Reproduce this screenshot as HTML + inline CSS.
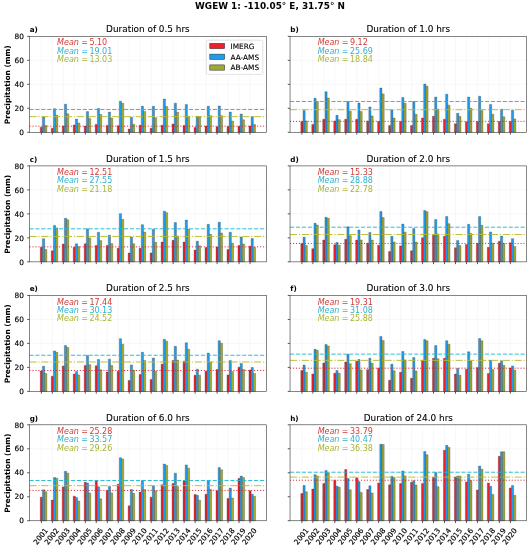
<!DOCTYPE html>
<html lang="en"><head><meta charset="utf-8"><title>WGEW 1 precipitation</title>
<style>html,body{margin:0;padding:0;background:#fff}body{width:530px;height:550px;overflow:hidden}svg{display:block;filter:blur(0.25px)}</style>
</head><body>
<svg width="530" height="550" viewBox="0 0 530 550" font-family="'DejaVu Sans', 'Liberation Sans', sans-serif">
<rect width="530" height="550" fill="#fff"/>
<text x="270" y="8.5" font-size="8.88" font-weight="bold" text-anchor="middle" fill="#000">WGEW 1: -110.05° E, 31.75° N</text>
<g>
<path d="M41.36 36.35V132.3M52.35 36.35V132.3M63.33 36.35V132.3M74.31 36.35V132.3M85.3 36.35V132.3M96.28 36.35V132.3M107.26 36.35V132.3M118.25 36.35V132.3M129.23 36.35V132.3M140.21 36.35V132.3M151.19 36.35V132.3M162.18 36.35V132.3M173.16 36.35V132.3M184.14 36.35V132.3M195.13 36.35V132.3M206.11 36.35V132.3M217.09 36.35V132.3M228.08 36.35V132.3M239.06 36.35V132.3M250.04 36.35V132.3M29.5 108.31H266.3M29.5 84.33H266.3M29.5 60.34H266.3" stroke="#eeeeee" stroke-width="0.4" fill="none"/>
<path d="M40.26 132.3V127.15h2.2V132.3zM51.25 132.3V128.2h2.2V132.3zM62.23 132.3V125.98h2.2V132.3zM73.21 132.3V124.92h2.2V132.3zM84.2 132.3V126.1h2.2V132.3zM95.18 132.3V124.46h2.2V132.3zM106.16 132.3V125.39h2.2V132.3zM117.15 132.3V125.63h2.2V132.3zM128.13 132.3V129.02h2.2V132.3zM139.11 132.3V125.16h2.2V132.3zM150.1 132.3V128.2h2.2V132.3zM161.08 132.3V125.16h2.2V132.3zM172.06 132.3V123.99h2.2V132.3zM183.05 132.3V125.51h2.2V132.3zM194.03 132.3V127.38h2.2V132.3zM205.01 132.3V125.98h2.2V132.3zM216 132.3V126.8h2.2V132.3zM226.98 132.3V126.45h2.2V132.3zM237.96 132.3V126.21h2.2V132.3zM248.95 132.3V125.98h2.2V132.3z" fill="#f0202a" stroke="#303030" stroke-width="0.3"/>
<path d="M42.46 132.3V117.08h2.2V132.3zM53.44 132.3V108.63h2.2V132.3zM64.43 132.3V104.23h2.2V132.3zM75.41 132.3V119.1h2.2V132.3zM86.39 132.3V111.61h2.2V132.3zM97.38 132.3V108.39h2.2V132.3zM108.36 132.3V112.08h2.2V132.3zM119.34 132.3V101.14h2.2V132.3zM130.33 132.3V117.2h2.2V132.3zM141.31 132.3V106.25h2.2V132.3zM152.29 132.3V106.25h2.2V132.3zM163.28 132.3V99h2.2V132.3zM174.26 132.3V103.16h2.2V132.3zM185.24 132.3V104.59h2.2V132.3zM196.23 132.3V116.36h2.2V132.3zM207.21 132.3V106.25h2.2V132.3zM218.19 132.3V105.9h2.2V132.3zM229.18 132.3V112.08h2.2V132.3zM240.16 132.3V114.1h2.2V132.3zM251.14 132.3V116.6h2.2V132.3z" fill="#1e9cf0" stroke="#303030" stroke-width="0.3"/>
<path d="M44.66 132.3V125.56h2.2V132.3zM55.64 132.3V115.17h2.2V132.3zM66.62 132.3V113.75h2.2V132.3zM77.61 132.3V123.08h2.2V132.3zM88.59 132.3V118.59h2.2V132.3zM99.57 132.3V114.46h2.2V132.3zM110.56 132.3V118.12h2.2V132.3zM121.54 132.3V103.35h2.2V132.3zM132.52 132.3V124.26h2.2V132.3zM143.51 132.3V111.38h2.2V132.3zM154.49 132.3V117.65h2.2V132.3zM165.47 132.3V106.42h2.2V132.3zM176.46 132.3V112.21h2.2V132.3zM187.44 132.3V116.35h2.2V132.3zM198.42 132.3V116.47h2.2V132.3zM209.41 132.3V115.64h2.2V132.3zM220.39 132.3V115.64h2.2V132.3zM231.37 132.3V121.07h2.2V132.3zM242.36 132.3V119.77h2.2V132.3zM253.34 132.3V124.5h2.2V132.3z" fill="#a0aa2e" stroke="#303030" stroke-width="0.3"/>
<path d="M29.5 126.18H266.3" stroke="#d62728" stroke-width="0.95" stroke-dasharray="1.115 1.840" fill="none"/>
<path d="M29.5 109.5H266.3" stroke="#1fb8cf" stroke-width="0.92" stroke-dasharray="4.125 1.784" fill="none"/>
<path d="M29.5 116.67H266.3" stroke="#b6bb26" stroke-width="0.92" stroke-dasharray="7.136 1.784 1.115 1.784" fill="none"/>
<path d="M41.36 132.3v2.3M52.35 132.3v2.3M63.33 132.3v2.3M74.31 132.3v2.3M85.3 132.3v2.3M96.28 132.3v2.3M107.26 132.3v2.3M118.25 132.3v2.3M129.23 132.3v2.3M140.21 132.3v2.3M151.19 132.3v2.3M162.18 132.3v2.3M173.16 132.3v2.3M184.14 132.3v2.3M195.13 132.3v2.3M206.11 132.3v2.3M217.09 132.3v2.3M228.08 132.3v2.3M239.06 132.3v2.3M250.04 132.3v2.3M29.5 132.3h-2.3M29.5 108.31h-2.3M29.5 84.33h-2.3M29.5 60.34h-2.3M29.5 36.35h-2.3" stroke="#222" stroke-width="0.75" fill="none"/>
<rect x="29.5" y="36.35" width="236.8" height="95.95" fill="none" stroke="#3a3a3a" stroke-width="0.62"/>
<text x="147.9" y="32.05" font-size="8.88" text-anchor="middle" fill="#000" stroke="#000" stroke-width="0.1">Duration of 0.5 hrs</text>
<text x="29.7" y="32.15" font-size="7.2" font-weight="bold" fill="#000">a)</text>
<text y="45.4" font-size="8" fill="#d23a36"><tspan x="57.1" font-style="italic">Mean</tspan><tspan x="81.2">=</tspan><tspan x="89.4">5.10</tspan></text>
<text y="53.8" font-size="8" fill="#2fb2cc"><tspan x="57.1" font-style="italic">Mean</tspan><tspan x="81.2">=</tspan><tspan x="89.4">19.01</tspan></text>
<text y="62.2" font-size="8" fill="#aab536"><tspan x="57.1" font-style="italic">Mean</tspan><tspan x="81.2">=</tspan><tspan x="89.4">13.03</tspan></text>
<text x="24" y="135" font-size="7.4" text-anchor="end" fill="#000" stroke="#000" stroke-width="0.15">0</text>
<text x="24" y="111.01" font-size="7.4" text-anchor="end" fill="#000" stroke="#000" stroke-width="0.15">20</text>
<text x="24" y="87.03" font-size="7.4" text-anchor="end" fill="#000" stroke="#000" stroke-width="0.15">40</text>
<text x="24" y="63.04" font-size="7.4" text-anchor="end" fill="#000" stroke="#000" stroke-width="0.15">60</text>
<text x="24" y="39.05" font-size="7.4" text-anchor="end" fill="#000" stroke="#000" stroke-width="0.15">80</text>
<text transform="translate(9.5 84.73) rotate(-90)" font-size="7.45" font-weight="bold" text-anchor="middle" fill="#000">Precipitation (mm)</text>
<rect x="206.3" y="40.2" width="56.5" height="34.2" rx="1.2" fill="#fff" fill-opacity="0.8" stroke="#cfcfcf" stroke-width="0.6"/>
<rect x="209.8" y="43.4" width="14.8" height="5.25" fill="#f0202a" stroke="#303030" stroke-width="0.55"/>
<text x="230.5" y="48.85" font-size="7.35" fill="#000" stroke="#000" stroke-width="0.12">IMERG</text>
<rect x="209.8" y="54.15" width="14.8" height="5.25" fill="#1e9cf0" stroke="#303030" stroke-width="0.55"/>
<text x="230.5" y="59.6" font-size="7.35" fill="#000" stroke="#000" stroke-width="0.12">AA-AMS</text>
<rect x="209.8" y="64.9" width="14.8" height="5.25" fill="#a0aa2e" stroke="#303030" stroke-width="0.55"/>
<text x="230.5" y="70.35" font-size="7.35" fill="#000" stroke="#000" stroke-width="0.12">AB-AMS</text>
</g>
<g>
<path d="M301.9 36.35V132.3M312.87 36.35V132.3M323.84 36.35V132.3M334.81 36.35V132.3M345.79 36.35V132.3M356.76 36.35V132.3M367.73 36.35V132.3M378.7 36.35V132.3M389.67 36.35V132.3M400.64 36.35V132.3M411.62 36.35V132.3M422.59 36.35V132.3M433.56 36.35V132.3M444.53 36.35V132.3M455.5 36.35V132.3M466.48 36.35V132.3M477.45 36.35V132.3M488.42 36.35V132.3M499.39 36.35V132.3M510.36 36.35V132.3M290.05 108.31H526.6M290.05 84.33H526.6M290.05 60.34H526.6" stroke="#eeeeee" stroke-width="0.4" fill="none"/>
<path d="M300.8 132.3V121.49h2.19V132.3zM311.77 132.3V124.42h2.19V132.3zM322.75 132.3V119.28h2.19V132.3zM333.72 132.3V120.96h2.19V132.3zM344.69 132.3V119.28h2.19V132.3zM355.66 132.3V119.28h2.19V132.3zM366.63 132.3V120.96h2.19V132.3zM377.6 132.3V121.49h2.19V132.3zM388.58 132.3V125.49h2.19V132.3zM399.55 132.3V121.49h2.19V132.3zM410.52 132.3V125.49h2.19V132.3zM421.49 132.3V118.09h2.19V132.3zM432.46 132.3V116.3h2.19V132.3zM443.43 132.3V119.28h2.19V132.3zM454.41 132.3V123.82h2.19V132.3zM465.38 132.3V121.79h2.19V132.3zM476.35 132.3V121.49h2.19V132.3zM487.32 132.3V123.82h2.19V132.3zM498.29 132.3V121.49h2.19V132.3zM509.26 132.3V121.49h2.19V132.3z" fill="#f0202a" stroke="#303030" stroke-width="0.3"/>
<path d="M303 132.3V110.42h2.19V132.3zM313.97 132.3V98.28h2.19V132.3zM324.94 132.3V91.67h2.19V132.3zM335.91 132.3V115.35h2.19V132.3zM346.88 132.3V101.41h2.19V132.3zM357.86 132.3V103.09h2.19V132.3zM368.83 132.3V106.94h2.19V132.3zM379.8 132.3V88.07h2.19V132.3zM390.77 132.3V109.82h2.19V132.3zM401.74 132.3V97.44h2.19V132.3zM412.71 132.3V101.41h2.19V132.3zM423.69 132.3V83.98h2.19V132.3zM434.66 132.3V97.08h2.19V132.3zM445.63 132.3V94.2h2.19V132.3zM456.6 132.3V113.31h2.19V132.3zM467.57 132.3V97.08h2.19V132.3zM478.54 132.3V96.24h2.19V132.3zM489.52 132.3V104.41h2.19V132.3zM500.49 132.3V109.34h2.19V132.3zM511.46 132.3V110.18h2.19V132.3z" fill="#1e9cf0" stroke="#303030" stroke-width="0.3"/>
<path d="M305.19 132.3V120.94h2.19V132.3zM316.16 132.3V101.57h2.19V132.3zM327.13 132.3V98.11h2.19V132.3zM338.11 132.3V119.63h2.19V132.3zM349.08 132.3V111.14h2.19V132.3zM360.05 132.3V111.62h2.19V132.3zM371.02 132.3V115.92h2.19V132.3zM381.99 132.3V93.92h2.19V132.3zM392.96 132.3V118.07h2.19V132.3zM403.94 132.3V103.25h2.19V132.3zM414.91 132.3V114.25h2.19V132.3zM425.88 132.3V86.27h2.19V132.3zM436.85 132.3V109.11h2.19V132.3zM447.82 132.3V105.16h2.19V132.3zM458.79 132.3V116.4h2.19V132.3zM469.77 132.3V108.27h2.19V132.3zM480.74 132.3V110.54h2.19V132.3zM491.71 132.3V114.25h2.19V132.3zM502.68 132.3V116.76h2.19V132.3zM513.65 132.3V118.91h2.19V132.3z" fill="#a0aa2e" stroke="#303030" stroke-width="0.3"/>
<path d="M290.05 121.36H526.6" stroke="#d62728" stroke-width="0.95" stroke-dasharray="1.115 1.840" fill="none"/>
<path d="M290.05 101.49H526.6" stroke="#1fb8cf" stroke-width="0.92" stroke-dasharray="4.125 1.784" fill="none"/>
<path d="M290.05 109.7H526.6" stroke="#b6bb26" stroke-width="0.92" stroke-dasharray="7.136 1.784 1.115 1.784" fill="none"/>
<path d="M301.9 132.3v2.3M312.87 132.3v2.3M323.84 132.3v2.3M334.81 132.3v2.3M345.79 132.3v2.3M356.76 132.3v2.3M367.73 132.3v2.3M378.7 132.3v2.3M389.67 132.3v2.3M400.64 132.3v2.3M411.62 132.3v2.3M422.59 132.3v2.3M433.56 132.3v2.3M444.53 132.3v2.3M455.5 132.3v2.3M466.48 132.3v2.3M477.45 132.3v2.3M488.42 132.3v2.3M499.39 132.3v2.3M510.36 132.3v2.3M290.05 132.3h-2.3M290.05 108.31h-2.3M290.05 84.33h-2.3M290.05 60.34h-2.3M290.05 36.35h-2.3" stroke="#222" stroke-width="0.75" fill="none"/>
<rect x="290.05" y="36.35" width="236.55" height="95.95" fill="none" stroke="#3a3a3a" stroke-width="0.62"/>
<text x="408.33" y="32.05" font-size="8.88" text-anchor="middle" fill="#000" stroke="#000" stroke-width="0.1">Duration of 1.0 hrs</text>
<text x="290.25" y="32.15" font-size="7.2" font-weight="bold" fill="#000">b)</text>
<text y="45.4" font-size="8" fill="#d23a36"><tspan x="317.65" font-style="italic">Mean</tspan><tspan x="341.75">=</tspan><tspan x="349.95">9.12</tspan></text>
<text y="53.8" font-size="8" fill="#2fb2cc"><tspan x="317.65" font-style="italic">Mean</tspan><tspan x="341.75">=</tspan><tspan x="349.95">25.69</tspan></text>
<text y="62.2" font-size="8" fill="#aab536"><tspan x="317.65" font-style="italic">Mean</tspan><tspan x="341.75">=</tspan><tspan x="349.95">18.84</tspan></text>
</g>
<g>
<path d="M41.36 165.9V261.85M52.35 165.9V261.85M63.33 165.9V261.85M74.31 165.9V261.85M85.3 165.9V261.85M96.28 165.9V261.85M107.26 165.9V261.85M118.25 165.9V261.85M129.23 165.9V261.85M140.21 165.9V261.85M151.19 165.9V261.85M162.18 165.9V261.85M173.16 165.9V261.85M184.14 165.9V261.85M195.13 165.9V261.85M206.11 165.9V261.85M217.09 165.9V261.85M228.08 165.9V261.85M239.06 165.9V261.85M250.04 165.9V261.85M29.5 237.86H266.3M29.5 213.88H266.3M29.5 189.89H266.3" stroke="#eeeeee" stroke-width="0.4" fill="none"/>
<path d="M40.26 261.85V247.14h2.2V261.85zM51.25 261.85V250.85h2.2V261.85zM62.23 261.85V244.04h2.2V261.85zM73.21 261.85V247.14h2.2V261.85zM84.2 261.85V243.8h2.2V261.85zM95.18 261.85V245.47h2.2V261.85zM106.16 261.85V245.47h2.2V261.85zM117.15 261.85V248.34h2.2V261.85zM128.13 261.85V253h2.2V261.85zM139.11 261.85V248.34h2.2V261.85zM150.1 261.85V252.88h2.2V261.85zM161.08 261.85V242.12h2.2V261.85zM172.06 261.85V240.33h2.2V261.85zM183.05 261.85V242.12h2.2V261.85zM194.03 261.85V250.01h2.2V261.85zM205.01 261.85V247.5h2.2V261.85zM216 261.85V247.03h2.2V261.85zM226.98 261.85V249.54h2.2V261.85zM237.96 261.85V245.47h2.2V261.85zM248.95 261.85V246.31h2.2V261.85z" fill="#f0202a" stroke="#303030" stroke-width="0.3"/>
<path d="M42.46 261.85V238.65h2.2V261.85zM53.44 261.85V225.49h2.2V261.85zM64.43 261.85V218.31h2.2V261.85zM75.41 261.85V243.79h2.2V261.85zM86.39 261.85V228.84h2.2V261.85zM97.38 261.85V232.19h2.2V261.85zM108.36 261.85V235.3h2.2V261.85zM119.34 261.85V213.65h2.2V261.85zM130.33 261.85V236.97h2.2V261.85zM141.31 261.85V224.65h2.2V261.85zM152.29 261.85V229.2h2.2V261.85zM163.28 261.85V211.13h2.2V261.85zM174.26 261.85V222.62h2.2V261.85zM185.24 261.85V220.11h2.2V261.85zM196.23 261.85V241.16h2.2V261.85zM207.21 261.85V224.29h2.2V261.85zM218.19 261.85V222.14h2.2V261.85zM229.18 261.85V232.19h2.2V261.85zM240.16 261.85V236.97h2.2V261.85zM251.14 261.85V238.53h2.2V261.85z" fill="#1e9cf0" stroke="#303030" stroke-width="0.3"/>
<path d="M44.66 261.85V249.49h2.2V261.85zM55.64 261.85V227.88h2.2V261.85zM66.62 261.85V219.72h2.2V261.85zM77.61 261.85V246.61h2.2V261.85zM88.59 261.85V238.09h2.2V261.85zM99.57 261.85V240.61h2.2V261.85zM110.56 261.85V243.61h2.2V261.85zM121.54 261.85V219.36h2.2V261.85zM132.52 261.85V243.73h2.2V261.85zM143.51 261.85V232.08h2.2V261.85zM154.49 261.85V242.29h2.2V261.85zM165.47 261.85V212.64h2.2V261.85zM176.46 261.85V236.05h2.2V261.85zM187.44 261.85V229.08h2.2V261.85zM198.42 261.85V245.77h2.2V261.85zM209.41 261.85V234.36h2.2V261.85zM220.39 261.85V233.04h2.2V261.85zM231.37 261.85V243.13h2.2V261.85zM242.36 261.85V243.97h2.2V261.85zM253.34 261.85V247.45h2.2V261.85z" fill="#a0aa2e" stroke="#303030" stroke-width="0.3"/>
<path d="M29.5 246.85H266.3" stroke="#d62728" stroke-width="0.95" stroke-dasharray="1.115 1.840" fill="none"/>
<path d="M29.5 228.81H266.3" stroke="#1fb8cf" stroke-width="0.92" stroke-dasharray="4.125 1.784" fill="none"/>
<path d="M29.5 236.45H266.3" stroke="#b6bb26" stroke-width="0.92" stroke-dasharray="7.136 1.784 1.115 1.784" fill="none"/>
<path d="M41.36 261.85v2.3M52.35 261.85v2.3M63.33 261.85v2.3M74.31 261.85v2.3M85.3 261.85v2.3M96.28 261.85v2.3M107.26 261.85v2.3M118.25 261.85v2.3M129.23 261.85v2.3M140.21 261.85v2.3M151.19 261.85v2.3M162.18 261.85v2.3M173.16 261.85v2.3M184.14 261.85v2.3M195.13 261.85v2.3M206.11 261.85v2.3M217.09 261.85v2.3M228.08 261.85v2.3M239.06 261.85v2.3M250.04 261.85v2.3M29.5 261.85h-2.3M29.5 237.86h-2.3M29.5 213.88h-2.3M29.5 189.89h-2.3M29.5 165.9h-2.3" stroke="#222" stroke-width="0.75" fill="none"/>
<rect x="29.5" y="165.9" width="236.8" height="95.95" fill="none" stroke="#3a3a3a" stroke-width="0.62"/>
<text x="147.9" y="161.6" font-size="8.88" text-anchor="middle" fill="#000" stroke="#000" stroke-width="0.1">Duration of 1.5 hrs</text>
<text x="29.7" y="161.7" font-size="7.2" font-weight="bold" fill="#000">c)</text>
<text y="174.95" font-size="8" fill="#d23a36"><tspan x="57.1" font-style="italic">Mean</tspan><tspan x="81.2">=</tspan><tspan x="89.4">12.51</tspan></text>
<text y="183.35" font-size="8" fill="#2fb2cc"><tspan x="57.1" font-style="italic">Mean</tspan><tspan x="81.2">=</tspan><tspan x="89.4">27.55</tspan></text>
<text y="191.75" font-size="8" fill="#aab536"><tspan x="57.1" font-style="italic">Mean</tspan><tspan x="81.2">=</tspan><tspan x="89.4">21.18</tspan></text>
<text x="24" y="264.55" font-size="7.4" text-anchor="end" fill="#000" stroke="#000" stroke-width="0.15">0</text>
<text x="24" y="240.56" font-size="7.4" text-anchor="end" fill="#000" stroke="#000" stroke-width="0.15">20</text>
<text x="24" y="216.58" font-size="7.4" text-anchor="end" fill="#000" stroke="#000" stroke-width="0.15">40</text>
<text x="24" y="192.59" font-size="7.4" text-anchor="end" fill="#000" stroke="#000" stroke-width="0.15">60</text>
<text x="24" y="168.6" font-size="7.4" text-anchor="end" fill="#000" stroke="#000" stroke-width="0.15">80</text>
<text transform="translate(9.5 214.28) rotate(-90)" font-size="7.45" font-weight="bold" text-anchor="middle" fill="#000">Precipitation (mm)</text>
</g>
<g>
<path d="M301.9 165.9V261.85M312.87 165.9V261.85M323.84 165.9V261.85M334.81 165.9V261.85M345.79 165.9V261.85M356.76 165.9V261.85M367.73 165.9V261.85M378.7 165.9V261.85M389.67 165.9V261.85M400.64 165.9V261.85M411.62 165.9V261.85M422.59 165.9V261.85M433.56 165.9V261.85M444.53 165.9V261.85M455.5 165.9V261.85M466.48 165.9V261.85M477.45 165.9V261.85M488.42 165.9V261.85M499.39 165.9V261.85M510.36 165.9V261.85M290.05 237.86H526.6M290.05 213.88H526.6M290.05 189.89H526.6" stroke="#eeeeee" stroke-width="0.4" fill="none"/>
<path d="M300.8 261.85V243.59h2.19V261.85zM311.77 261.85V248.67h2.19V261.85zM322.75 261.85V239.96h2.19V261.85zM333.72 261.85V244.8h2.19V261.85zM344.69 261.85V239.24h2.19V261.85zM355.66 261.85V240.08h2.19V261.85zM366.63 261.85V243.11h2.19V261.85zM377.6 261.85V245.16h2.19V261.85zM388.58 261.85V251.57h2.19V261.85zM399.55 261.85V245.89h2.19V261.85zM410.52 261.85V250.73h2.19V261.85zM421.49 261.85V237.79h2.19V261.85zM432.46 261.85V235.37h2.19V261.85zM443.43 261.85V236.21h2.19V261.85zM454.41 261.85V247.7h2.19V261.85zM465.38 261.85V244.56h2.19V261.85zM476.35 261.85V243.35h2.19V261.85zM487.32 261.85V247.34h2.19V261.85zM498.29 261.85V241.29h2.19V261.85zM509.26 261.85V242.87h2.19V261.85z" fill="#f0202a" stroke="#303030" stroke-width="0.3"/>
<path d="M303 261.85V237.13h2.19V261.85zM313.97 261.85V223.14h2.19V261.85zM324.94 261.85V217.23h2.19V261.85zM335.91 261.85V242.55h2.19V261.85zM346.88 261.85V226.87h2.19V261.85zM357.86 261.85V230.01h2.19V261.85zM368.83 261.85V232.42h2.19V261.85zM379.8 261.85V211.56h2.19V261.85zM390.77 261.85V236.28h2.19V261.85zM401.74 261.85V224.1h2.19V261.85zM412.71 261.85V228.44h2.19V261.85zM423.69 261.85V210.47h2.19V261.85zM434.66 261.85V219.52h2.19V261.85zM445.63 261.85V216.5h2.19V261.85zM456.6 261.85V240.38h2.19V261.85zM467.57 261.85V224.34h2.19V261.85zM478.54 261.85V216.62h2.19V261.85zM489.52 261.85V231.94h2.19V261.85zM500.49 261.85V236.04h2.19V261.85zM511.46 261.85V238.69h2.19V261.85z" fill="#1e9cf0" stroke="#303030" stroke-width="0.3"/>
<path d="M305.19 261.85V245.6h2.19V261.85zM316.16 261.85V224.99h2.19V261.85zM327.13 261.85V218.2h2.19V261.85zM338.11 261.85V245.24h2.19V261.85zM349.08 261.85V235.66h2.19V261.85zM360.05 261.85V240.03h2.19V261.85zM371.02 261.85V240.03h2.19V261.85zM381.99 261.85V217.6h2.19V261.85zM392.96 261.85V242.09h2.19V261.85zM403.94 261.85V232.15h2.19V261.85zM414.91 261.85V242.09h2.19V261.85zM425.88 261.85V211.66h2.19V261.85zM436.85 261.85V233.96h2.19V261.85zM447.82 261.85V223.66h2.19V261.85zM458.79 261.85V245.6h2.19V261.85zM469.77 261.85V233.6h2.19V261.85zM480.74 261.85V225.36h2.19V261.85zM491.71 261.85V243.3h2.19V261.85zM502.68 261.85V243.3h2.19V261.85zM513.65 261.85V246.45h2.19V261.85z" fill="#a0aa2e" stroke="#303030" stroke-width="0.3"/>
<path d="M290.05 243.46H526.6" stroke="#d62728" stroke-width="0.95" stroke-dasharray="1.115 1.840" fill="none"/>
<path d="M290.05 227.21H526.6" stroke="#1fb8cf" stroke-width="0.92" stroke-dasharray="4.125 1.784" fill="none"/>
<path d="M290.05 234.53H526.6" stroke="#b6bb26" stroke-width="0.92" stroke-dasharray="7.136 1.784 1.115 1.784" fill="none"/>
<path d="M301.9 261.85v2.3M312.87 261.85v2.3M323.84 261.85v2.3M334.81 261.85v2.3M345.79 261.85v2.3M356.76 261.85v2.3M367.73 261.85v2.3M378.7 261.85v2.3M389.67 261.85v2.3M400.64 261.85v2.3M411.62 261.85v2.3M422.59 261.85v2.3M433.56 261.85v2.3M444.53 261.85v2.3M455.5 261.85v2.3M466.48 261.85v2.3M477.45 261.85v2.3M488.42 261.85v2.3M499.39 261.85v2.3M510.36 261.85v2.3M290.05 261.85h-2.3M290.05 237.86h-2.3M290.05 213.88h-2.3M290.05 189.89h-2.3M290.05 165.9h-2.3" stroke="#222" stroke-width="0.75" fill="none"/>
<rect x="290.05" y="165.9" width="236.55" height="95.95" fill="none" stroke="#3a3a3a" stroke-width="0.62"/>
<text x="408.33" y="161.6" font-size="8.88" text-anchor="middle" fill="#000" stroke="#000" stroke-width="0.1">Duration of 2.0 hrs</text>
<text x="290.25" y="161.7" font-size="7.2" font-weight="bold" fill="#000">d)</text>
<text y="174.95" font-size="8" fill="#d23a36"><tspan x="317.65" font-style="italic">Mean</tspan><tspan x="341.75">=</tspan><tspan x="349.95">15.33</tspan></text>
<text y="183.35" font-size="8" fill="#2fb2cc"><tspan x="317.65" font-style="italic">Mean</tspan><tspan x="341.75">=</tspan><tspan x="349.95">28.88</tspan></text>
<text y="191.75" font-size="8" fill="#aab536"><tspan x="317.65" font-style="italic">Mean</tspan><tspan x="341.75">=</tspan><tspan x="349.95">22.78</tspan></text>
</g>
<g>
<path d="M41.36 295.45V391.4M52.35 295.45V391.4M63.33 295.45V391.4M74.31 295.45V391.4M85.3 295.45V391.4M96.28 295.45V391.4M107.26 295.45V391.4M118.25 295.45V391.4M129.23 295.45V391.4M140.21 295.45V391.4M151.19 295.45V391.4M162.18 295.45V391.4M173.16 295.45V391.4M184.14 295.45V391.4M195.13 295.45V391.4M206.11 295.45V391.4M217.09 295.45V391.4M228.08 295.45V391.4M239.06 295.45V391.4M250.04 295.45V391.4M29.5 367.41H266.3M29.5 343.42H266.3M29.5 319.44H266.3" stroke="#eeeeee" stroke-width="0.4" fill="none"/>
<path d="M40.26 391.4V370.9h2.2V391.4zM51.25 391.4V376.21h2.2V391.4zM62.23 391.4V365.96h2.2V391.4zM73.21 391.4V374.04h2.2V391.4zM84.2 391.4V365.48h2.2V391.4zM95.18 391.4V365.84h2.2V391.4zM106.16 391.4V371.99h2.2V391.4zM117.15 391.4V371.14h2.2V391.4zM128.13 391.4V380.49h2.2V391.4zM139.11 391.4V374.4h2.2V391.4zM150.1 391.4V379.46h2.2V391.4zM161.08 391.4V364.15h2.2V391.4zM172.06 391.4V360.41h2.2V391.4zM183.05 391.4V361.26h2.2V391.4zM194.03 391.4V375.24h2.2V391.4zM205.01 391.4V371.14h2.2V391.4zM216 391.4V369.45h2.2V391.4zM226.98 391.4V374.88h2.2V391.4zM237.96 391.4V367.16h2.2V391.4zM248.95 391.4V370.06h2.2V391.4z" fill="#f0202a" stroke="#303030" stroke-width="0.3"/>
<path d="M42.46 391.4V366.28h2.2V391.4zM53.44 391.4V350.95h2.2V391.4zM64.43 391.4V345.51h2.2V391.4zM75.41 391.4V371.47h2.2V391.4zM86.39 391.4V355.53h2.2V391.4zM97.38 391.4V359.52h2.2V391.4zM108.36 391.4V359.16h2.2V391.4zM119.34 391.4V338.63h2.2V391.4zM130.33 391.4V364.95h2.2V391.4zM141.31 391.4V352.27h2.2V391.4zM152.29 391.4V358.07h2.2V391.4zM163.28 391.4V339.35h2.2V391.4zM174.26 391.4V346.36h2.2V391.4zM185.24 391.4V342.73h2.2V391.4zM196.23 391.4V369.18h2.2V391.4zM207.21 391.4V353.12h2.2V391.4zM218.19 391.4V340.68h2.2V391.4zM229.18 391.4V360.61h2.2V391.4zM240.16 391.4V363.38h2.2V391.4zM251.14 391.4V367.49h2.2V391.4z" fill="#1e9cf0" stroke="#303030" stroke-width="0.3"/>
<path d="M44.66 391.4V373.45h2.2V391.4zM55.64 391.4V352.36h2.2V391.4zM66.62 391.4V347.54h2.2V391.4zM77.61 391.4V374.89h2.2V391.4zM88.59 391.4V364.65h2.2V391.4zM99.57 391.4V369.71h2.2V391.4zM110.56 391.4V365.49h2.2V391.4zM121.54 391.4V344.16h2.2V391.4zM132.52 391.4V370.31h2.2V391.4zM143.51 391.4V360.43h2.2V391.4zM154.49 391.4V371.16h2.2V391.4zM165.47 391.4V341.15h2.2V391.4zM176.46 391.4V360.07h2.2V391.4zM187.44 391.4V349.34h2.2V391.4zM198.42 391.4V375.25h2.2V391.4zM209.41 391.4V362.12h2.2V391.4zM220.39 391.4V343.32h2.2V391.4zM231.37 391.4V371.52h2.2V391.4zM242.36 391.4V369.47h2.2V391.4zM253.34 391.4V373.45h2.2V391.4z" fill="#a0aa2e" stroke="#303030" stroke-width="0.3"/>
<path d="M29.5 370.48H266.3" stroke="#d62728" stroke-width="0.95" stroke-dasharray="1.115 1.840" fill="none"/>
<path d="M29.5 355.26H266.3" stroke="#1fb8cf" stroke-width="0.92" stroke-dasharray="4.125 1.784" fill="none"/>
<path d="M29.5 361.99H266.3" stroke="#b6bb26" stroke-width="0.92" stroke-dasharray="7.136 1.784 1.115 1.784" fill="none"/>
<path d="M41.36 391.4v2.3M52.35 391.4v2.3M63.33 391.4v2.3M74.31 391.4v2.3M85.3 391.4v2.3M96.28 391.4v2.3M107.26 391.4v2.3M118.25 391.4v2.3M129.23 391.4v2.3M140.21 391.4v2.3M151.19 391.4v2.3M162.18 391.4v2.3M173.16 391.4v2.3M184.14 391.4v2.3M195.13 391.4v2.3M206.11 391.4v2.3M217.09 391.4v2.3M228.08 391.4v2.3M239.06 391.4v2.3M250.04 391.4v2.3M29.5 391.4h-2.3M29.5 367.41h-2.3M29.5 343.42h-2.3M29.5 319.44h-2.3M29.5 295.45h-2.3" stroke="#222" stroke-width="0.75" fill="none"/>
<rect x="29.5" y="295.45" width="236.8" height="95.95" fill="none" stroke="#3a3a3a" stroke-width="0.62"/>
<text x="147.9" y="291.15" font-size="8.88" text-anchor="middle" fill="#000" stroke="#000" stroke-width="0.1">Duration of 2.5 hrs</text>
<text x="29.7" y="291.25" font-size="7.2" font-weight="bold" fill="#000">e)</text>
<text y="304.5" font-size="8" fill="#d23a36"><tspan x="57.1" font-style="italic">Mean</tspan><tspan x="81.2">=</tspan><tspan x="89.4">17.44</tspan></text>
<text y="312.9" font-size="8" fill="#2fb2cc"><tspan x="57.1" font-style="italic">Mean</tspan><tspan x="81.2">=</tspan><tspan x="89.4">30.13</tspan></text>
<text y="321.3" font-size="8" fill="#aab536"><tspan x="57.1" font-style="italic">Mean</tspan><tspan x="81.2">=</tspan><tspan x="89.4">24.52</tspan></text>
<text x="24" y="394.1" font-size="7.4" text-anchor="end" fill="#000" stroke="#000" stroke-width="0.15">0</text>
<text x="24" y="370.11" font-size="7.4" text-anchor="end" fill="#000" stroke="#000" stroke-width="0.15">20</text>
<text x="24" y="346.12" font-size="7.4" text-anchor="end" fill="#000" stroke="#000" stroke-width="0.15">40</text>
<text x="24" y="322.14" font-size="7.4" text-anchor="end" fill="#000" stroke="#000" stroke-width="0.15">60</text>
<text x="24" y="298.15" font-size="7.4" text-anchor="end" fill="#000" stroke="#000" stroke-width="0.15">80</text>
<text transform="translate(9.5 343.82) rotate(-90)" font-size="7.45" font-weight="bold" text-anchor="middle" fill="#000">Precipitation (mm)</text>
</g>
<g>
<path d="M301.9 295.45V391.4M312.87 295.45V391.4M323.84 295.45V391.4M334.81 295.45V391.4M345.79 295.45V391.4M356.76 295.45V391.4M367.73 295.45V391.4M378.7 295.45V391.4M389.67 295.45V391.4M400.64 295.45V391.4M411.62 295.45V391.4M422.59 295.45V391.4M433.56 295.45V391.4M444.53 295.45V391.4M455.5 295.45V391.4M466.48 295.45V391.4M477.45 295.45V391.4M488.42 295.45V391.4M499.39 295.45V391.4M510.36 295.45V391.4M290.05 367.41H526.6M290.05 343.42H526.6M290.05 319.44H526.6" stroke="#eeeeee" stroke-width="0.4" fill="none"/>
<path d="M300.8 391.4V370.52h2.19V391.4zM311.77 391.4V374.02h2.19V391.4zM322.75 391.4V362.91h2.19V391.4zM333.72 391.4V373.17h2.19V391.4zM344.69 391.4V362.07h2.19V391.4zM355.66 391.4V361.22h2.19V391.4zM366.63 391.4V369.67h2.19V391.4zM377.6 391.4V367.98h2.19V391.4zM388.58 391.4V380.29h2.19V391.4zM399.55 391.4V372.33h2.19V391.4zM410.52 391.4V378.24h2.19V391.4zM421.49 391.4V360.38h2.19V391.4zM432.46 391.4V358.32h2.19V391.4zM443.43 391.4V358.32h2.19V391.4zM454.41 391.4V374.02h2.19V391.4zM465.38 391.4V369.19h2.19V391.4zM476.35 391.4V367.5h2.19V391.4zM487.32 391.4V373.41h2.19V391.4zM498.29 391.4V363.27h2.19V391.4zM509.26 391.4V367.98h2.19V391.4z" fill="#f0202a" stroke="#303030" stroke-width="0.3"/>
<path d="M303 391.4V365.07h2.19V391.4zM313.97 391.4V349.24h2.19V391.4zM324.94 391.4V344.53h2.19V391.4zM335.91 391.4V370.5h2.19V391.4zM346.88 391.4V354.32h2.19V391.4zM357.86 391.4V359.51h2.19V391.4zM368.83 391.4V358.3h2.19V391.4zM379.8 391.4V336.44h2.19V391.4zM390.77 391.4V364.22h2.19V391.4zM401.74 391.4V351.42h2.19V391.4zM412.71 391.4V357.46h2.19V391.4zM423.69 391.4V339.46h2.19V391.4zM434.66 391.4V345.5h2.19V391.4zM445.63 391.4V340.67h2.19V391.4zM456.6 391.4V368.45h2.19V391.4zM467.57 391.4V351.78h2.19V391.4zM478.54 391.4V338.49h2.19V391.4zM489.52 391.4V360.36h2.19V391.4zM500.49 391.4V360.84h2.19V391.4zM511.46 391.4V365.91h2.19V391.4z" fill="#1e9cf0" stroke="#303030" stroke-width="0.3"/>
<path d="M305.19 391.4V372.25h2.19V391.4zM316.16 391.4V350.32h2.19V391.4zM327.13 391.4V345.96h2.19V391.4zM338.11 391.4V373.34h2.19V391.4zM349.08 391.4V363.65h2.19V391.4zM360.05 391.4V369.95h2.19V391.4zM371.02 391.4V363.29h2.19V391.4zM381.99 391.4V340.51h2.19V391.4zM392.96 391.4V370.8h2.19V391.4zM403.94 391.4V359.89h2.19V391.4zM414.91 391.4V371.04h2.19V391.4zM425.88 391.4V340.87h2.19V391.4zM436.85 391.4V358.8h2.19V391.4zM447.82 391.4V344.26h2.19V391.4zM458.79 391.4V375.16h2.19V391.4zM469.77 391.4V361.11h2.19V391.4zM480.74 391.4V340.87h2.19V391.4zM491.71 391.4V369.59h2.19V391.4zM502.68 391.4V365.35h2.19V391.4zM513.65 391.4V370.19h2.19V391.4z" fill="#a0aa2e" stroke="#303030" stroke-width="0.3"/>
<path d="M290.05 368.24H526.6" stroke="#d62728" stroke-width="0.95" stroke-dasharray="1.115 1.840" fill="none"/>
<path d="M290.05 354.12H526.6" stroke="#1fb8cf" stroke-width="0.92" stroke-dasharray="4.125 1.784" fill="none"/>
<path d="M290.05 360.36H526.6" stroke="#b6bb26" stroke-width="0.92" stroke-dasharray="7.136 1.784 1.115 1.784" fill="none"/>
<path d="M301.9 391.4v2.3M312.87 391.4v2.3M323.84 391.4v2.3M334.81 391.4v2.3M345.79 391.4v2.3M356.76 391.4v2.3M367.73 391.4v2.3M378.7 391.4v2.3M389.67 391.4v2.3M400.64 391.4v2.3M411.62 391.4v2.3M422.59 391.4v2.3M433.56 391.4v2.3M444.53 391.4v2.3M455.5 391.4v2.3M466.48 391.4v2.3M477.45 391.4v2.3M488.42 391.4v2.3M499.39 391.4v2.3M510.36 391.4v2.3M290.05 391.4h-2.3M290.05 367.41h-2.3M290.05 343.42h-2.3M290.05 319.44h-2.3M290.05 295.45h-2.3" stroke="#222" stroke-width="0.75" fill="none"/>
<rect x="290.05" y="295.45" width="236.55" height="95.95" fill="none" stroke="#3a3a3a" stroke-width="0.62"/>
<text x="408.33" y="291.15" font-size="8.88" text-anchor="middle" fill="#000" stroke="#000" stroke-width="0.1">Duration of 3.0 hrs</text>
<text x="290.25" y="291.25" font-size="7.2" font-weight="bold" fill="#000">f)</text>
<text y="304.5" font-size="8" fill="#d23a36"><tspan x="317.65" font-style="italic">Mean</tspan><tspan x="341.75">=</tspan><tspan x="349.95">19.31</tspan></text>
<text y="312.9" font-size="8" fill="#2fb2cc"><tspan x="317.65" font-style="italic">Mean</tspan><tspan x="341.75">=</tspan><tspan x="349.95">31.08</tspan></text>
<text y="321.3" font-size="8" fill="#aab536"><tspan x="317.65" font-style="italic">Mean</tspan><tspan x="341.75">=</tspan><tspan x="349.95">25.88</tspan></text>
</g>
<g>
<path d="M41.36 424.8V520.75M52.35 424.8V520.75M63.33 424.8V520.75M74.31 424.8V520.75M85.3 424.8V520.75M96.28 424.8V520.75M107.26 424.8V520.75M118.25 424.8V520.75M129.23 424.8V520.75M140.21 424.8V520.75M151.19 424.8V520.75M162.18 424.8V520.75M173.16 424.8V520.75M184.14 424.8V520.75M195.13 424.8V520.75M206.11 424.8V520.75M217.09 424.8V520.75M228.08 424.8V520.75M239.06 424.8V520.75M250.04 424.8V520.75M29.5 496.76H266.3M29.5 472.77H266.3M29.5 448.79H266.3" stroke="#eeeeee" stroke-width="0.4" fill="none"/>
<path d="M40.26 520.75V497.21h2.2V520.75zM51.25 520.75V500.12h2.2V520.75zM62.23 520.75V486.9h2.2V520.75zM73.21 520.75V496.24h2.2V520.75zM84.2 520.75V482.17h2.2V520.75zM95.18 520.75V480.71h2.2V520.75zM106.16 520.75V490.42h2.2V520.75zM117.15 520.75V484.23h2.2V520.75zM128.13 520.75V505.83h2.2V520.75zM139.11 520.75V492.12h2.2V520.75zM150.1 520.75V497.21h2.2V520.75zM161.08 520.75V484.72h2.2V520.75zM172.06 520.75V483.38h2.2V520.75zM183.05 520.75V480.47h2.2V520.75zM194.03 520.75V494.54h2.2V520.75zM205.01 520.75V494.18h2.2V520.75zM216 520.75V490.66h2.2V520.75zM226.98 520.75V498.43h2.2V520.75zM237.96 520.75V478.41h2.2V520.75zM248.95 520.75V490.66h2.2V520.75z" fill="#f0202a" stroke="#303030" stroke-width="0.3"/>
<path d="M42.46 520.75V489.78h2.2V520.75zM53.44 520.75V477.52h2.2V520.75zM64.43 520.75V471.32h2.2V520.75zM75.41 520.75V497.56h2.2V520.75zM86.39 520.75V482.98h2.2V520.75zM97.38 520.75V486.87h2.2V520.75zM108.36 520.75V486.38h2.2V520.75zM119.34 520.75V457.72h2.2V520.75zM130.33 520.75V489.54h2.2V520.75zM141.31 520.75V480.43h2.2V520.75zM152.29 520.75V485.9h2.2V520.75zM163.28 520.75V464.04h2.2V520.75zM174.26 520.75V473.15h2.2V520.75zM185.24 520.75V464.89h2.2V520.75zM196.23 520.75V495.37h2.2V520.75zM207.21 520.75V480.43h2.2V520.75zM218.19 520.75V467.56h2.2V520.75zM229.18 520.75V488.08h2.2V520.75zM240.16 520.75V476.06h2.2V520.75zM251.14 520.75V494.15h2.2V520.75z" fill="#1e9cf0" stroke="#303030" stroke-width="0.3"/>
<path d="M44.66 520.75V491.68h2.2V520.75zM55.64 520.75V478.23h2.2V520.75zM66.62 520.75V473.14h2.2V520.75zM77.61 520.75V501h2.2V520.75zM88.59 520.75V492.89h2.2V520.75zM99.57 520.75V498.82h2.2V520.75zM110.56 520.75V492.89h2.2V520.75zM121.54 520.75V459.09h2.2V520.75zM132.52 520.75V493.37h2.2V520.75zM143.51 520.75V489.62h2.2V520.75zM154.49 520.75V490.71h2.2V520.75zM165.47 520.75V465.39h2.2V520.75zM176.46 520.75V486.47h2.2V520.75zM187.44 520.75V468.18h2.2V520.75zM198.42 520.75V500.16h2.2V520.75zM209.41 520.75V489.62h2.2V520.75zM220.39 520.75V469.87h2.2V520.75zM231.37 520.75V498.1h2.2V520.75zM242.36 520.75V477.62h2.2V520.75zM253.34 520.75V496.28h2.2V520.75z" fill="#a0aa2e" stroke="#303030" stroke-width="0.3"/>
<path d="M29.5 490.43H266.3" stroke="#d62728" stroke-width="0.95" stroke-dasharray="1.115 1.840" fill="none"/>
<path d="M29.5 480.49H266.3" stroke="#1fb8cf" stroke-width="0.92" stroke-dasharray="4.125 1.784" fill="none"/>
<path d="M29.5 485.66H266.3" stroke="#b6bb26" stroke-width="0.92" stroke-dasharray="7.136 1.784 1.115 1.784" fill="none"/>
<path d="M41.36 520.75v2.3M52.35 520.75v2.3M63.33 520.75v2.3M74.31 520.75v2.3M85.3 520.75v2.3M96.28 520.75v2.3M107.26 520.75v2.3M118.25 520.75v2.3M129.23 520.75v2.3M140.21 520.75v2.3M151.19 520.75v2.3M162.18 520.75v2.3M173.16 520.75v2.3M184.14 520.75v2.3M195.13 520.75v2.3M206.11 520.75v2.3M217.09 520.75v2.3M228.08 520.75v2.3M239.06 520.75v2.3M250.04 520.75v2.3M29.5 520.75h-2.3M29.5 496.76h-2.3M29.5 472.77h-2.3M29.5 448.79h-2.3M29.5 424.8h-2.3" stroke="#222" stroke-width="0.75" fill="none"/>
<rect x="29.5" y="424.8" width="236.8" height="95.95" fill="none" stroke="#3a3a3a" stroke-width="0.62"/>
<text x="147.9" y="420.5" font-size="8.88" text-anchor="middle" fill="#000" stroke="#000" stroke-width="0.1">Duration of 6.0 hrs</text>
<text x="29.7" y="420.6" font-size="7.2" font-weight="bold" fill="#000">g)</text>
<text y="433.85" font-size="8" fill="#d23a36"><tspan x="57.1" font-style="italic">Mean</tspan><tspan x="81.2">=</tspan><tspan x="89.4">25.28</tspan></text>
<text y="442.25" font-size="8" fill="#2fb2cc"><tspan x="57.1" font-style="italic">Mean</tspan><tspan x="81.2">=</tspan><tspan x="89.4">33.57</tspan></text>
<text y="450.65" font-size="8" fill="#aab536"><tspan x="57.1" font-style="italic">Mean</tspan><tspan x="81.2">=</tspan><tspan x="89.4">29.26</tspan></text>
<text x="24" y="523.45" font-size="7.4" text-anchor="end" fill="#000" stroke="#000" stroke-width="0.15">0</text>
<text x="24" y="499.46" font-size="7.4" text-anchor="end" fill="#000" stroke="#000" stroke-width="0.15">20</text>
<text x="24" y="475.47" font-size="7.4" text-anchor="end" fill="#000" stroke="#000" stroke-width="0.15">40</text>
<text x="24" y="451.49" font-size="7.4" text-anchor="end" fill="#000" stroke="#000" stroke-width="0.15">60</text>
<text x="24" y="427.5" font-size="7.4" text-anchor="end" fill="#000" stroke="#000" stroke-width="0.15">80</text>
<text transform="translate(9.5 473.17) rotate(-90)" font-size="7.45" font-weight="bold" text-anchor="middle" fill="#000">Precipitation (mm)</text>
<text transform="translate(40.76 536.35) rotate(-52)" font-size="7.3" text-anchor="middle" dominant-baseline="central" fill="#000" stroke="#000" stroke-width="0.15">2001</text>
<text transform="translate(51.75 536.35) rotate(-52)" font-size="7.3" text-anchor="middle" dominant-baseline="central" fill="#000" stroke="#000" stroke-width="0.15">2002</text>
<text transform="translate(62.73 536.35) rotate(-52)" font-size="7.3" text-anchor="middle" dominant-baseline="central" fill="#000" stroke="#000" stroke-width="0.15">2003</text>
<text transform="translate(73.71 536.35) rotate(-52)" font-size="7.3" text-anchor="middle" dominant-baseline="central" fill="#000" stroke="#000" stroke-width="0.15">2004</text>
<text transform="translate(84.7 536.35) rotate(-52)" font-size="7.3" text-anchor="middle" dominant-baseline="central" fill="#000" stroke="#000" stroke-width="0.15">2005</text>
<text transform="translate(95.68 536.35) rotate(-52)" font-size="7.3" text-anchor="middle" dominant-baseline="central" fill="#000" stroke="#000" stroke-width="0.15">2006</text>
<text transform="translate(106.66 536.35) rotate(-52)" font-size="7.3" text-anchor="middle" dominant-baseline="central" fill="#000" stroke="#000" stroke-width="0.15">2007</text>
<text transform="translate(117.65 536.35) rotate(-52)" font-size="7.3" text-anchor="middle" dominant-baseline="central" fill="#000" stroke="#000" stroke-width="0.15">2008</text>
<text transform="translate(128.63 536.35) rotate(-52)" font-size="7.3" text-anchor="middle" dominant-baseline="central" fill="#000" stroke="#000" stroke-width="0.15">2009</text>
<text transform="translate(139.61 536.35) rotate(-52)" font-size="7.3" text-anchor="middle" dominant-baseline="central" fill="#000" stroke="#000" stroke-width="0.15">2010</text>
<text transform="translate(150.59 536.35) rotate(-52)" font-size="7.3" text-anchor="middle" dominant-baseline="central" fill="#000" stroke="#000" stroke-width="0.15">2011</text>
<text transform="translate(161.58 536.35) rotate(-52)" font-size="7.3" text-anchor="middle" dominant-baseline="central" fill="#000" stroke="#000" stroke-width="0.15">2012</text>
<text transform="translate(172.56 536.35) rotate(-52)" font-size="7.3" text-anchor="middle" dominant-baseline="central" fill="#000" stroke="#000" stroke-width="0.15">2013</text>
<text transform="translate(183.54 536.35) rotate(-52)" font-size="7.3" text-anchor="middle" dominant-baseline="central" fill="#000" stroke="#000" stroke-width="0.15">2014</text>
<text transform="translate(194.53 536.35) rotate(-52)" font-size="7.3" text-anchor="middle" dominant-baseline="central" fill="#000" stroke="#000" stroke-width="0.15">2015</text>
<text transform="translate(205.51 536.35) rotate(-52)" font-size="7.3" text-anchor="middle" dominant-baseline="central" fill="#000" stroke="#000" stroke-width="0.15">2016</text>
<text transform="translate(216.49 536.35) rotate(-52)" font-size="7.3" text-anchor="middle" dominant-baseline="central" fill="#000" stroke="#000" stroke-width="0.15">2017</text>
<text transform="translate(227.48 536.35) rotate(-52)" font-size="7.3" text-anchor="middle" dominant-baseline="central" fill="#000" stroke="#000" stroke-width="0.15">2018</text>
<text transform="translate(238.46 536.35) rotate(-52)" font-size="7.3" text-anchor="middle" dominant-baseline="central" fill="#000" stroke="#000" stroke-width="0.15">2019</text>
<text transform="translate(249.44 536.35) rotate(-52)" font-size="7.3" text-anchor="middle" dominant-baseline="central" fill="#000" stroke="#000" stroke-width="0.15">2020</text>
</g>
<g>
<path d="M301.9 424.8V520.75M312.87 424.8V520.75M323.84 424.8V520.75M334.81 424.8V520.75M345.79 424.8V520.75M356.76 424.8V520.75M367.73 424.8V520.75M378.7 424.8V520.75M389.67 424.8V520.75M400.64 424.8V520.75M411.62 424.8V520.75M422.59 424.8V520.75M433.56 424.8V520.75M444.53 424.8V520.75M455.5 424.8V520.75M466.48 424.8V520.75M477.45 424.8V520.75M488.42 424.8V520.75M499.39 424.8V520.75M510.36 424.8V520.75M290.05 496.76H526.6M290.05 472.77H526.6M290.05 448.79H526.6" stroke="#eeeeee" stroke-width="0.4" fill="none"/>
<path d="M300.8 520.75V493.5h2.19V520.75zM311.77 520.75V489.1h2.19V520.75zM322.75 520.75V483.6h2.19V520.75zM333.72 520.75V480.18h2.19V520.75zM344.69 520.75V469.55h2.19V520.75zM355.66 520.75V477.86h2.19V520.75zM366.63 520.75V489.59h2.19V520.75zM377.6 520.75V483.11h2.19V520.75zM388.58 520.75V484.82h2.19V520.75zM399.55 520.75V483.6h2.19V520.75zM410.52 520.75V482.26h2.19V520.75zM421.49 520.75V483.6h2.19V520.75zM432.46 520.75V477.37h2.19V520.75zM443.43 520.75V450.24h2.19V520.75zM454.41 520.75V477h2.19V520.75zM465.38 520.75V481.89h2.19V520.75zM476.35 520.75V489.96h2.19V520.75zM487.32 520.75V483.11h2.19V520.75zM498.29 520.75V456.23h2.19V520.75zM509.26 520.75V487.88h2.19V520.75z" fill="#f0202a" stroke="#303030" stroke-width="0.3"/>
<path d="M303 520.75V485.49h2.19V520.75zM313.97 520.75V474.67h2.19V520.75zM324.94 520.75V470.41h2.19V520.75zM335.91 520.75V486.22h2.19V520.75zM346.88 520.75V478.56h2.19V520.75zM357.86 520.75V481.6h2.19V520.75zM368.83 520.75V485.85h2.19V520.75zM379.8 520.75V444.27h2.19V520.75zM390.77 520.75V476.37h2.19V520.75zM401.74 520.75V470.9h2.19V520.75zM412.71 520.75V480.63h2.19V520.75zM423.69 520.75V451.44h2.19V520.75zM434.66 520.75V472.48h2.19V520.75zM445.63 520.75V445.36h2.19V520.75zM456.6 520.75V476h2.19V520.75zM467.57 520.75V474.3h2.19V520.75zM478.54 520.75V466.03h2.19V520.75zM489.52 520.75V486.34h2.19V520.75zM500.49 520.75V451.81h2.19V520.75zM511.46 520.75V485.49h2.19V520.75z" fill="#1e9cf0" stroke="#303030" stroke-width="0.3"/>
<path d="M305.19 520.75V491.81h2.19V520.75zM316.16 520.75V475.88h2.19V520.75zM327.13 520.75V472.96h2.19V520.75zM338.11 520.75V487.19h2.19V520.75zM349.08 520.75V489.74h2.19V520.75zM360.05 520.75V492.42h2.19V520.75zM371.02 520.75V493.02h2.19V520.75zM381.99 520.75V444.5h2.19V520.75zM392.96 520.75V477.58h2.19V520.75zM403.94 520.75V475.88h2.19V520.75zM414.91 520.75V485h2.19V520.75zM425.88 520.75V454.84h2.19V520.75zM436.85 520.75V486.7h2.19V520.75zM447.82 520.75V447.42h2.19V520.75zM458.79 520.75V476h2.19V520.75zM469.77 520.75V480.62h2.19V520.75zM480.74 520.75V469.19h2.19V520.75zM491.71 520.75V494.48h2.19V520.75zM502.68 520.75V451.8h2.19V520.75zM513.65 520.75V495.33h2.19V520.75z" fill="#a0aa2e" stroke="#303030" stroke-width="0.3"/>
<path d="M290.05 480.22H526.6" stroke="#d62728" stroke-width="0.95" stroke-dasharray="1.115 1.840" fill="none"/>
<path d="M290.05 472.21H526.6" stroke="#1fb8cf" stroke-width="0.92" stroke-dasharray="4.125 1.784" fill="none"/>
<path d="M290.05 477.12H526.6" stroke="#b6bb26" stroke-width="0.92" stroke-dasharray="7.136 1.784 1.115 1.784" fill="none"/>
<path d="M301.9 520.75v2.3M312.87 520.75v2.3M323.84 520.75v2.3M334.81 520.75v2.3M345.79 520.75v2.3M356.76 520.75v2.3M367.73 520.75v2.3M378.7 520.75v2.3M389.67 520.75v2.3M400.64 520.75v2.3M411.62 520.75v2.3M422.59 520.75v2.3M433.56 520.75v2.3M444.53 520.75v2.3M455.5 520.75v2.3M466.48 520.75v2.3M477.45 520.75v2.3M488.42 520.75v2.3M499.39 520.75v2.3M510.36 520.75v2.3M290.05 520.75h-2.3M290.05 496.76h-2.3M290.05 472.77h-2.3M290.05 448.79h-2.3M290.05 424.8h-2.3" stroke="#222" stroke-width="0.75" fill="none"/>
<rect x="290.05" y="424.8" width="236.55" height="95.95" fill="none" stroke="#3a3a3a" stroke-width="0.62"/>
<text x="408.33" y="420.5" font-size="8.88" text-anchor="middle" fill="#000" stroke="#000" stroke-width="0.1">Duration of 24.0 hrs</text>
<text x="290.25" y="420.6" font-size="7.2" font-weight="bold" fill="#000">h)</text>
<text y="433.85" font-size="8" fill="#d23a36"><tspan x="317.65" font-style="italic">Mean</tspan><tspan x="341.75">=</tspan><tspan x="349.95">33.79</tspan></text>
<text y="442.25" font-size="8" fill="#2fb2cc"><tspan x="317.65" font-style="italic">Mean</tspan><tspan x="341.75">=</tspan><tspan x="349.95">40.47</tspan></text>
<text y="450.65" font-size="8" fill="#aab536"><tspan x="317.65" font-style="italic">Mean</tspan><tspan x="341.75">=</tspan><tspan x="349.95">36.38</tspan></text>
<text transform="translate(301.3 536.35) rotate(-52)" font-size="7.3" text-anchor="middle" dominant-baseline="central" fill="#000" stroke="#000" stroke-width="0.15">2001</text>
<text transform="translate(312.27 536.35) rotate(-52)" font-size="7.3" text-anchor="middle" dominant-baseline="central" fill="#000" stroke="#000" stroke-width="0.15">2002</text>
<text transform="translate(323.24 536.35) rotate(-52)" font-size="7.3" text-anchor="middle" dominant-baseline="central" fill="#000" stroke="#000" stroke-width="0.15">2003</text>
<text transform="translate(334.21 536.35) rotate(-52)" font-size="7.3" text-anchor="middle" dominant-baseline="central" fill="#000" stroke="#000" stroke-width="0.15">2004</text>
<text transform="translate(345.19 536.35) rotate(-52)" font-size="7.3" text-anchor="middle" dominant-baseline="central" fill="#000" stroke="#000" stroke-width="0.15">2005</text>
<text transform="translate(356.16 536.35) rotate(-52)" font-size="7.3" text-anchor="middle" dominant-baseline="central" fill="#000" stroke="#000" stroke-width="0.15">2006</text>
<text transform="translate(367.13 536.35) rotate(-52)" font-size="7.3" text-anchor="middle" dominant-baseline="central" fill="#000" stroke="#000" stroke-width="0.15">2007</text>
<text transform="translate(378.1 536.35) rotate(-52)" font-size="7.3" text-anchor="middle" dominant-baseline="central" fill="#000" stroke="#000" stroke-width="0.15">2008</text>
<text transform="translate(389.07 536.35) rotate(-52)" font-size="7.3" text-anchor="middle" dominant-baseline="central" fill="#000" stroke="#000" stroke-width="0.15">2009</text>
<text transform="translate(400.04 536.35) rotate(-52)" font-size="7.3" text-anchor="middle" dominant-baseline="central" fill="#000" stroke="#000" stroke-width="0.15">2010</text>
<text transform="translate(411.02 536.35) rotate(-52)" font-size="7.3" text-anchor="middle" dominant-baseline="central" fill="#000" stroke="#000" stroke-width="0.15">2011</text>
<text transform="translate(421.99 536.35) rotate(-52)" font-size="7.3" text-anchor="middle" dominant-baseline="central" fill="#000" stroke="#000" stroke-width="0.15">2012</text>
<text transform="translate(432.96 536.35) rotate(-52)" font-size="7.3" text-anchor="middle" dominant-baseline="central" fill="#000" stroke="#000" stroke-width="0.15">2013</text>
<text transform="translate(443.93 536.35) rotate(-52)" font-size="7.3" text-anchor="middle" dominant-baseline="central" fill="#000" stroke="#000" stroke-width="0.15">2014</text>
<text transform="translate(454.9 536.35) rotate(-52)" font-size="7.3" text-anchor="middle" dominant-baseline="central" fill="#000" stroke="#000" stroke-width="0.15">2015</text>
<text transform="translate(465.88 536.35) rotate(-52)" font-size="7.3" text-anchor="middle" dominant-baseline="central" fill="#000" stroke="#000" stroke-width="0.15">2016</text>
<text transform="translate(476.85 536.35) rotate(-52)" font-size="7.3" text-anchor="middle" dominant-baseline="central" fill="#000" stroke="#000" stroke-width="0.15">2017</text>
<text transform="translate(487.82 536.35) rotate(-52)" font-size="7.3" text-anchor="middle" dominant-baseline="central" fill="#000" stroke="#000" stroke-width="0.15">2018</text>
<text transform="translate(498.79 536.35) rotate(-52)" font-size="7.3" text-anchor="middle" dominant-baseline="central" fill="#000" stroke="#000" stroke-width="0.15">2019</text>
<text transform="translate(509.76 536.35) rotate(-52)" font-size="7.3" text-anchor="middle" dominant-baseline="central" fill="#000" stroke="#000" stroke-width="0.15">2020</text>
</g>
</svg>
</body></html>
